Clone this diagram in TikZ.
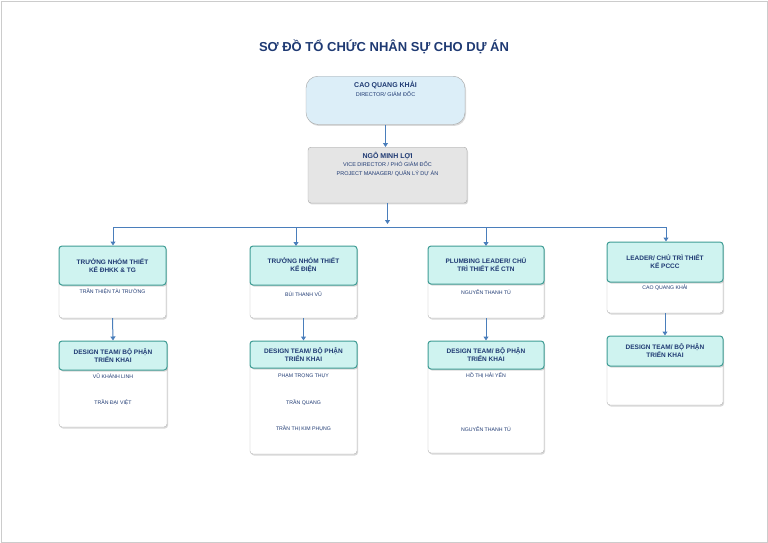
\documentclass[tikz,border=0pt]{standalone}
\usepackage{fontspec}
\setmainfont{Liberation Sans}
\usetikzlibrary{shadows,arrows.meta}
\definecolor{navy}{HTML}{1F3A73}
\definecolor{teal}{HTML}{3E9C94}
\definecolor{cyanf}{HTML}{CFF3F0}
\definecolor{dirf}{HTML}{DCEEF8}
\definecolor{arr}{HTML}{4A7EBB}
\tikzset{
  shd/.style={drop shadow={opacity=0.3,shadow xshift=1pt,shadow yshift=-1.5pt}},
  box/.style={rounded corners=3pt, draw=gray!60, fill=white, shd, inner sep=0},
  hdr/.style={rounded corners=3pt, draw=teal, line width=1pt, fill=cyanf, shd, inner sep=0, align=center, font=\fontsize{6.5}{8}\selectfont\bfseries, text=navy},
  nm/.style={font=\fontsize{5.2}{6}\selectfont, text=navy, inner sep=0},
  con/.style={draw=arr, line width=1pt},
  ar/.style={con, -{Triangle[width=5pt,length=4pt]}}
}
\newcommand{\rbox}[7]{% name x1 y1 x2 y2 style text
  \node[#6, minimum width=#4-#2, minimum height=#5-#3] (#1) at ({(#2+#4)/2},{(#3+#5)/2}) {#7};}
\begin{document}
\begin{tikzpicture}[x=1pt,y=-1pt]
\useasboundingbox (0,0) rectangle (768,543);
\draw[gray!40] (1,1) rectangle (767,542);
\node[font=\fontsize{13}{15}\selectfont\bfseries, text=navy] (title) at (384,47) {SƠ ĐỒ TỔ CHỨC NHÂN SỰ CHO DỰ ÁN};
% director
\node[rounded corners=12pt, draw=gray!70, fill=dirf, minimum width=159pt, minimum height=46pt, shd, anchor=north, align=center, font=\fontsize{5.5}{9}\selectfont, text=navy, inner sep=5pt] (dir) at (385.5,76) {{\fontsize{7}{9}\selectfont\bfseries CAO QUANG KHẢI}\\DIRECTOR/ GIÁM ĐỐC\\[14pt]};
\node[rounded corners=3pt, draw=gray!70, fill=gray!20, minimum width=159pt, minimum height=53pt, shd, anchor=north, align=center, font=\fontsize{5.5}{8.5}\selectfont, text=navy, inner sep=5pt] (vice) at (387.5,147) {{\fontsize{7}{9}\selectfont\bfseries NGÔ MINH LỢI}\\VICE DIRECTOR / PHÓ GIÁM ĐỐC\\PROJECT MANAGER/ QUẢN LÝ DỰ ÁN\\[14pt]};
\draw[ar] (dir.south) -- (dir.south |- vice.north);
\coordinate (hub) at (387.5,224);
\draw[ar] (vice.south) -- (hub);
\coordinate (hl) at (113,227);
\coordinate (hr) at (666,227);
\draw[con] (hl) -- (hr);
% column 1
\rbox{b1}{59}{280}{166}{318}{box}{}
\rbox{h1}{59}{246}{166}{285}{hdr}{TRƯỞNG NHÓM THIẾT\\KẾ ĐHKK \& TG}
\node[nm] (n1) at (112.5,292) {TRẦN THIỆN TÀI TRƯỜNG};
\rbox{d1b}{59}{365}{167}{427}{box}{}
\rbox{d1}{59}{341}{167}{370}{hdr}{DESIGN TEAM/ BỘ PHẬN\\TRIỂN KHAI}
\node[nm] (n1a) at (113,376) {VŨ KHÁNH LINH};
\node[nm] (n1b) at (113,403) {TRẦN ĐẠI VIỆT};
% column 2
\rbox{b2}{250}{280}{357}{318}{box}{}
\rbox{h2}{250}{246}{357}{285}{hdr}{TRƯỞNG NHÓM THIẾT\\KẾ ĐIỆN}
\node[nm] (n2) at (303.5,294) {BÙI THANH VŨ};
\rbox{d2b}{250}{363}{357}{454}{box}{}
\rbox{d2}{250}{341}{357}{368}{hdr}{DESIGN TEAM/ BỘ PHẬN\\TRIỂN KHAI}
\node[nm] (n2a) at (303.5,376) {PHẠM TRỌNG THỤY};
\node[nm] (n2b) at (303.5,403) {TRẦN QUANG};
\node[nm] (n2c) at (303.5,429) {TRẦN THỊ KIM PHỤNG};
% column 3
\rbox{b3}{428}{279}{544}{318}{box}{}
\rbox{h3}{428}{246}{544}{284}{hdr}{PLUMBING LEADER/ CHỦ\\TRÌ THIẾT KẾ CTN}
\node[nm] (n3) at (486,292) {NGUYỄN THANH TÚ};
\rbox{d3b}{428}{364}{544}{453}{box}{}
\rbox{d3}{428}{341}{544}{369}{hdr}{DESIGN TEAM/ BỘ PHẬN\\TRIỂN KHAI}
\node[nm] (n3a) at (486,376) {HỒ THỊ HẢI YẾN};
\node[nm] (n3b) at (486,429) {NGUYỄN THANH TÚ};
% column 4
\rbox{b4}{607}{277}{723}{313}{box}{}
\rbox{h4}{607}{242}{723}{282}{hdr}{LEADER/ CHỦ TRÌ THIẾT\\KẾ PCCC}
\node[nm] (n4) at (665,288) {CAO QUANG KHẢI};
\rbox{d4b}{607}{361}{723}{405}{box}{}
\rbox{d4}{607}{336}{723}{366}{hdr}{DESIGN TEAM/ BỘ PHẬN\\TRIỂN KHAI}
% connectors
\draw[ar] (hl) -- (hl |- h1.north);
\draw[ar] (296,227) -- (296,246);
\draw[ar] (486,227) -- (486,246);
\draw[ar] (hr) -- (hr |- h4.north);
\draw[ar] (b1.south) -- (d1.north);
\draw[ar] (b2.south) -- (d2.north);
\draw[ar] (b3.south) -- (d3.north);
\draw[ar] (b4.south) -- (d4.north);
\end{tikzpicture}
\end{document}
